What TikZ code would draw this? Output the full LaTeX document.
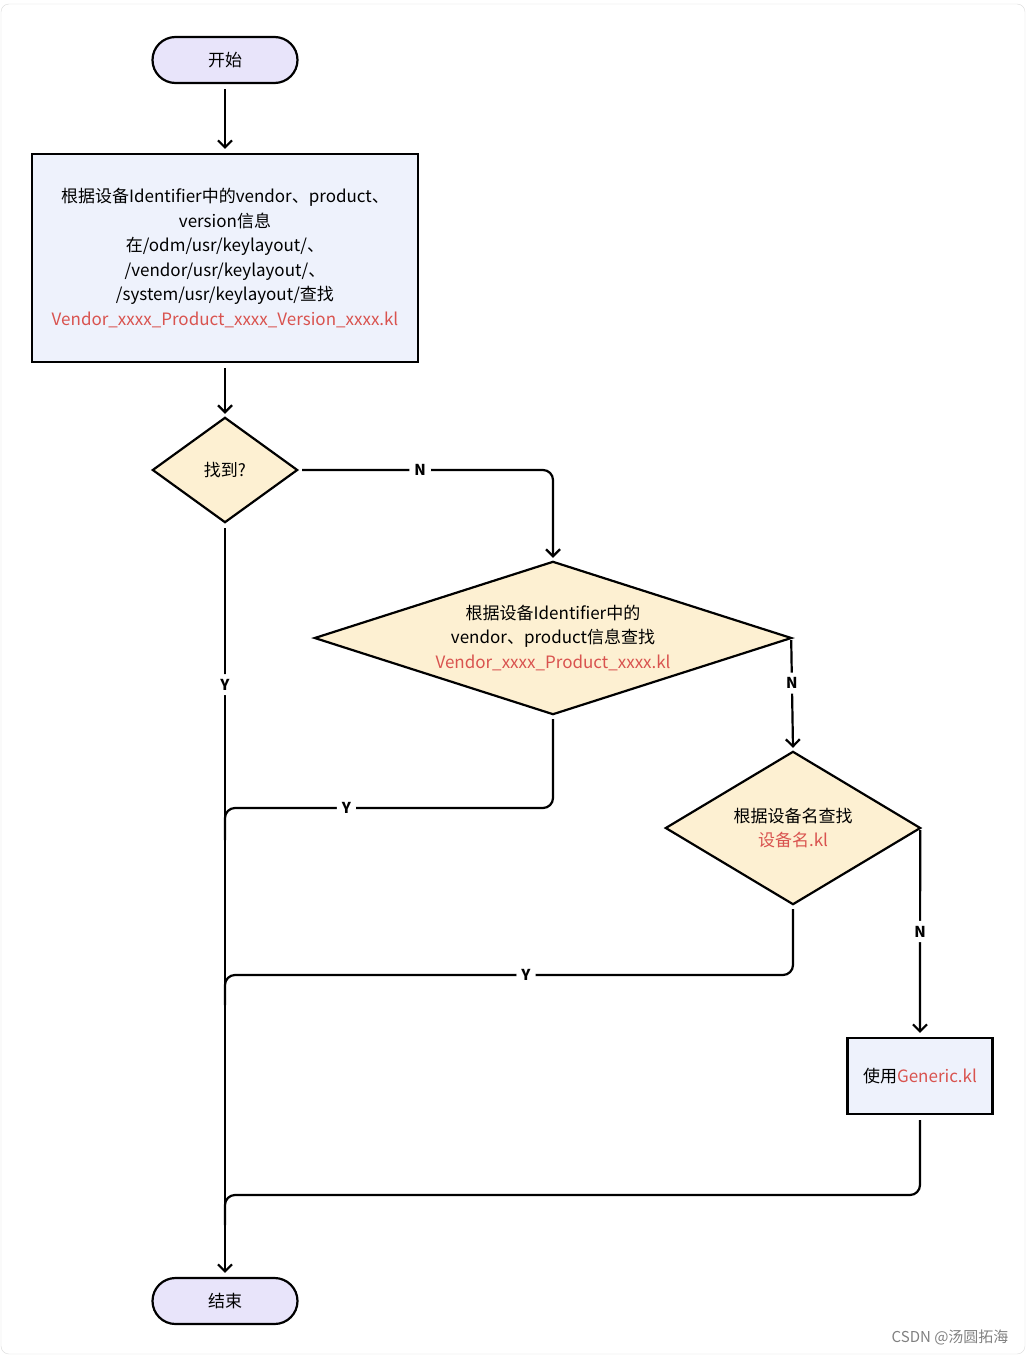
\documentclass[tikz,border=0pt]{standalone}
\usepackage{fontspec}
\setmainfont{Noto Sans CJK SC}
\usetikzlibrary{shapes.geometric,arrows.meta}
\definecolor{lav}{HTML}{E8E4FA}
\definecolor{boxb}{HTML}{EEF2FC}
\definecolor{dia}{HTML}{FDF0D2}
\definecolor{rt}{HTML}{D9534F}
\begin{document}
\begin{tikzpicture}[x=1pt,y=-1pt,
  every node/.style={font=\fontsize{17}{24.5}\selectfont},
  term/.style={draw,line width=2.2pt,fill=lav,rounded corners=23pt,minimum width=145pt,minimum height=46pt,inner sep=0pt},
  proc/.style={draw,line width=2.2pt,fill=boxb,inner sep=0pt,align=center},
  dec/.style={rectangle,inner sep=0pt,align=center},
  decshape/.style={draw,line width=2.2pt,fill=dia,line join=miter},
  ln/.style={line width=2.2pt,rounded corners=10pt},
  ar/.style={ln,-{Straight Barb[length=7pt,width=14pt,line width=2.2pt]}},
  lab/.style={fill=white,font=\fontsize{15}{16}\selectfont\bfseries,inner sep=5pt}]
\useasboundingbox (0,0) rectangle (1026,1355);
\draw[gray!30,rounded corners=8pt] (1,4) rectangle (1025,1354);
\node[term] (s) at (225,60) {开始};
\node[proc,minimum width=386pt,minimum height=208pt] (b1) at (225,258) {根据设备Identifier中的vendor、product、\\version信息\\在/odm/usr/keylayout/、\\/vendor/usr/keylayout/、\\/system/usr/keylayout/查找\\\textcolor{rt}{Vendor\_xxxx\_Product\_xxxx\_Version\_xxxx.kl}};
\node[dec,minimum width=144pt,minimum height=104pt] (d1) at (225,470) {};
\node[dec,minimum width=476pt,minimum height=152pt] (d2) at (553,638) {};
\node[dec,minimum width=254pt,minimum height=152pt] (d3) at (793,828) {};
\draw[decshape] (d1.north)--(d1.east)--(d1.south)--(d1.west)--cycle;
\draw[decshape] (d2.north)--(d2.east)--(d2.south)--(d2.west)--cycle;
\draw[decshape] (d3.north)--(d3.east)--(d3.south)--(d3.west)--cycle;
\node[dec] (t1) at (d1) {找到?};
\node[dec] (t2) at (d2) {根据设备Identifier中的\\vendor、product信息查找\\\textcolor{rt}{Vendor\_xxxx\_Product\_xxxx.kl}};
\node[dec] (t3) at (d3) {根据设备名查找\\\textcolor{rt}{设备名.kl}};
\node[proc,minimum width=145pt,minimum height=76pt] (g) at (920,1076) {使用\textcolor{rt}{Generic.kl}};
\node[term] (e) at (225,1301) {结束};
\coordinate (j1) at (225,840);
\coordinate (j2) at (225,1005);
\coordinate (j3) at (225,1225);
\draw[ar] ([yshift=-5pt]s.south) -- ([yshift=4pt]b1.north);
\draw[ar] ([yshift=-5pt]b1.south) -- ([yshift=4pt]d1.north);
\draw[ar] ([yshift=-6pt]d1.south) -- node[lab,pos=0.21]{Y} ([yshift=4pt]e.north);
\draw[ar] ([xshift=5pt]d1.east) -- node[lab,pos=0.47]{N} (553,470) -- ([yshift=4pt]d2.north);
\draw[ar] ([yshift=-2pt]d2.east) -- node[lab,pos=0.4]{N} ([yshift=4pt]d3.north);
\draw[ln] ([yshift=-5pt]d2.south) -- (553,808) -- node[lab,pos=0.63]{Y} (225,808) -- (j1);
\draw[ar] ([yshift=-2pt]d3.east) -- node[lab,pos=0.5]{N} ([yshift=4pt]g.north);
\draw[ln] ([yshift=-5pt]d3.south) -- (793,975) -- node[lab,pos=0.47]{Y} (225,975) -- (j2);
\draw[ln] ([yshift=-5pt]g.south) -- (920,1195) -- (225,1195) -- (j3);
\node[text=gray,font=\fontsize{15}{18}\selectfont,anchor=east] (wm) at (1012,1337) {CSDN @汤圆拓海};
\end{tikzpicture}
\end{document}
